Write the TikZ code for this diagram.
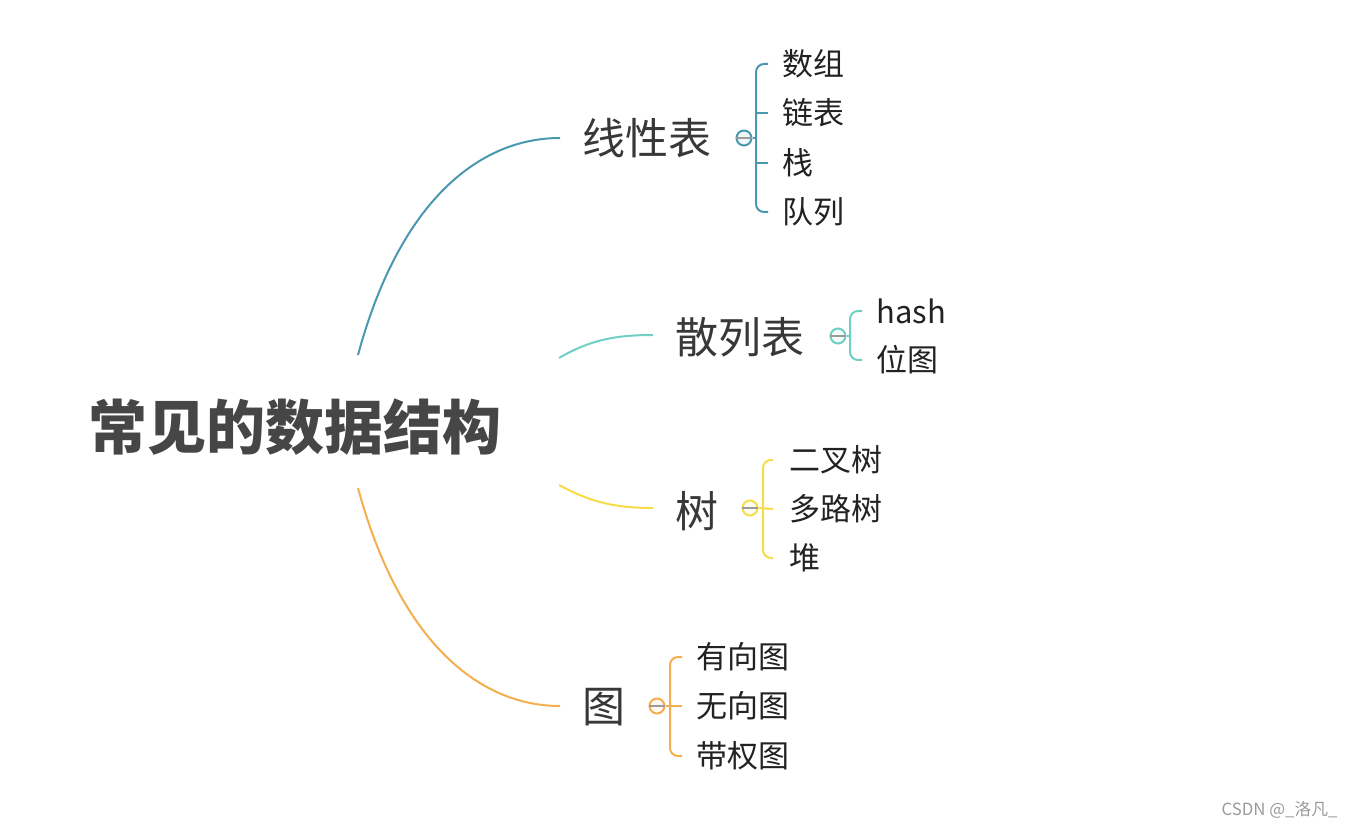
\documentclass[tikz,border=0pt]{standalone}
\usepackage{fontspec}
\setmainfont{Noto Sans CJK SC}
\definecolor{cblue}{HTML}{4A98B0}
\definecolor{cteal}{HTML}{6ECFC2}
\definecolor{cyel}{HTML}{F7DC4A}
\definecolor{corg}{HTML}{F5AE4E}
\definecolor{ctitle}{HTML}{464646}
\definecolor{ctext}{HTML}{222222}
\definecolor{cmark}{HTML}{9A9A9A}
\begin{document}
\begin{tikzpicture}[x=0.5pt,y=-0.5pt,
  title/.style={anchor=center,inner sep=0pt,font=\fontsize{29.5pt}{30pt}\selectfont\bfseries,text=ctitle},
  branch/.style={anchor=west,inner sep=0pt,font=\fontsize{21.5pt}{22pt}\selectfont,text=ctext!90!white},
  item/.style={anchor=west,inner sep=0pt,font=\fontsize{15.5pt}{16pt}\selectfont,text=ctext},
  link/.style={line width=1pt},
  brk/.style={line width=1pt,rounded corners=4pt},
  fold/.style={circle,draw,line width=1pt,minimum size=7.5pt,inner sep=0pt},
  minus/.style={line width=0.9pt,draw=cmark}
]
\useasboundingbox (0,0) rectangle (1354,828);

% root
\node[title] (root) at (295,427) {常见的数据结构};

% branches
\node[branch] (lin) at (582,138) {线性表};
\node[branch] (hsh) at (675,337) {散列表};
\node[branch] (tre) at (675,511) {树};
\node[branch] (gra) at (582,707) {图};

% curve end points
\coordinate (r1) at (358,355);
\coordinate (l1) at (560,138);
\coordinate (r2) at (559,358);
\coordinate (l2) at (653,335);
\coordinate (r3) at (559,485);
\coordinate (l3) at (653,508);
\coordinate (r4) at (358,488);
\coordinate (l4) at (560,706);

\draw[link,cblue] (r1) .. controls (400,200) and (480,138) .. (l1);
\draw[link,cteal] (r2) .. controls (590,340) and (615,335) .. (l2);
\draw[link,cyel] (r3) .. controls (590,502) and (615,508) .. (l3);
\draw[link,corg] (r4) .. controls (400,643) and (480,706) .. (l4);

% ---- 线性表 group
\node[item] (a1) at (782,64) {数组};
\node[item] (a2) at (782,113) {链表};
\node[item] (a3) at (782,163) {栈};
\node[item] (a4) at (782,212) {队列};
\draw[brk,cblue] (a1.west) ++(-14,0) -- (756,64) -- (756,212) -- ([xshift=-7pt]a4.west);
\draw[link,cblue] (756,113) -- ([xshift=-7pt]a2.west);
\draw[link,cblue] (756,163) -- ([xshift=-7pt]a3.west);
\node[fold,draw=cblue,fill=cblue!8] (fa) at (744,138) {};
\draw[link,cblue] (fa.east) -- (756,138);
\draw[minus] ([xshift=-4]fa.center) -- ([xshift=4]fa.center);

% ---- 散列表 group
\node[item] (b1) at (876,311) {hash};
\node[item] (b2) at (876,360) {位图};
\draw[brk,cteal] ([xshift=-7pt]b1.west) -- (850,311) -- (850,360) -- ([xshift=-7pt]b2.west);
\node[fold,draw=cteal,fill=cteal!8] (fb) at (838,336) {};
\draw[link,cteal] (fb.east) -- (850,336);
\draw[minus] ([xshift=-4]fb.center) -- ([xshift=4]fb.center);

% ---- 树 group
\node[item] (c1) at (789,460) {二叉树};
\node[item] (c2) at (789,509) {多路树};
\node[item] (c3) at (789,558) {堆};
\draw[brk,cyel] ([xshift=-8pt]c1.west) -- (763,460) -- (763,558) -- ([xshift=-8pt]c3.west);
\node[fold,draw=cyel,fill=cyel!8] (fc) at (750,508) {};
\draw[link,cyel] (fc.east) -- ([xshift=-8pt]c2.west);
\draw[minus] ([xshift=-4]fc.center) -- ([xshift=4]fc.center);

% ---- 图 group
\node[item] (d1) at (696,657) {有向图};
\node[item] (d2) at (696,706) {无向图};
\node[item] (d3) at (696,756) {带权图};
\draw[brk,corg] ([xshift=-7pt]d1.west) -- (670,657) -- (670,756) -- ([xshift=-7pt]d3.west);
\node[fold,draw=corg,fill=corg!8] (fd) at (657,706) {};
\draw[link,corg] (fd.east) -- ([xshift=-7pt]d2.west);
\draw[minus] ([xshift=-4]fd.center) -- ([xshift=4]fd.center);

% watermark
\node[anchor=east,inner sep=0pt,font=\fontsize{8.4pt}{9pt}\selectfont,text=cmark] (wm) at (1338,810) {CSDN @\_洛凡\_};
\end{tikzpicture}
\end{document}
